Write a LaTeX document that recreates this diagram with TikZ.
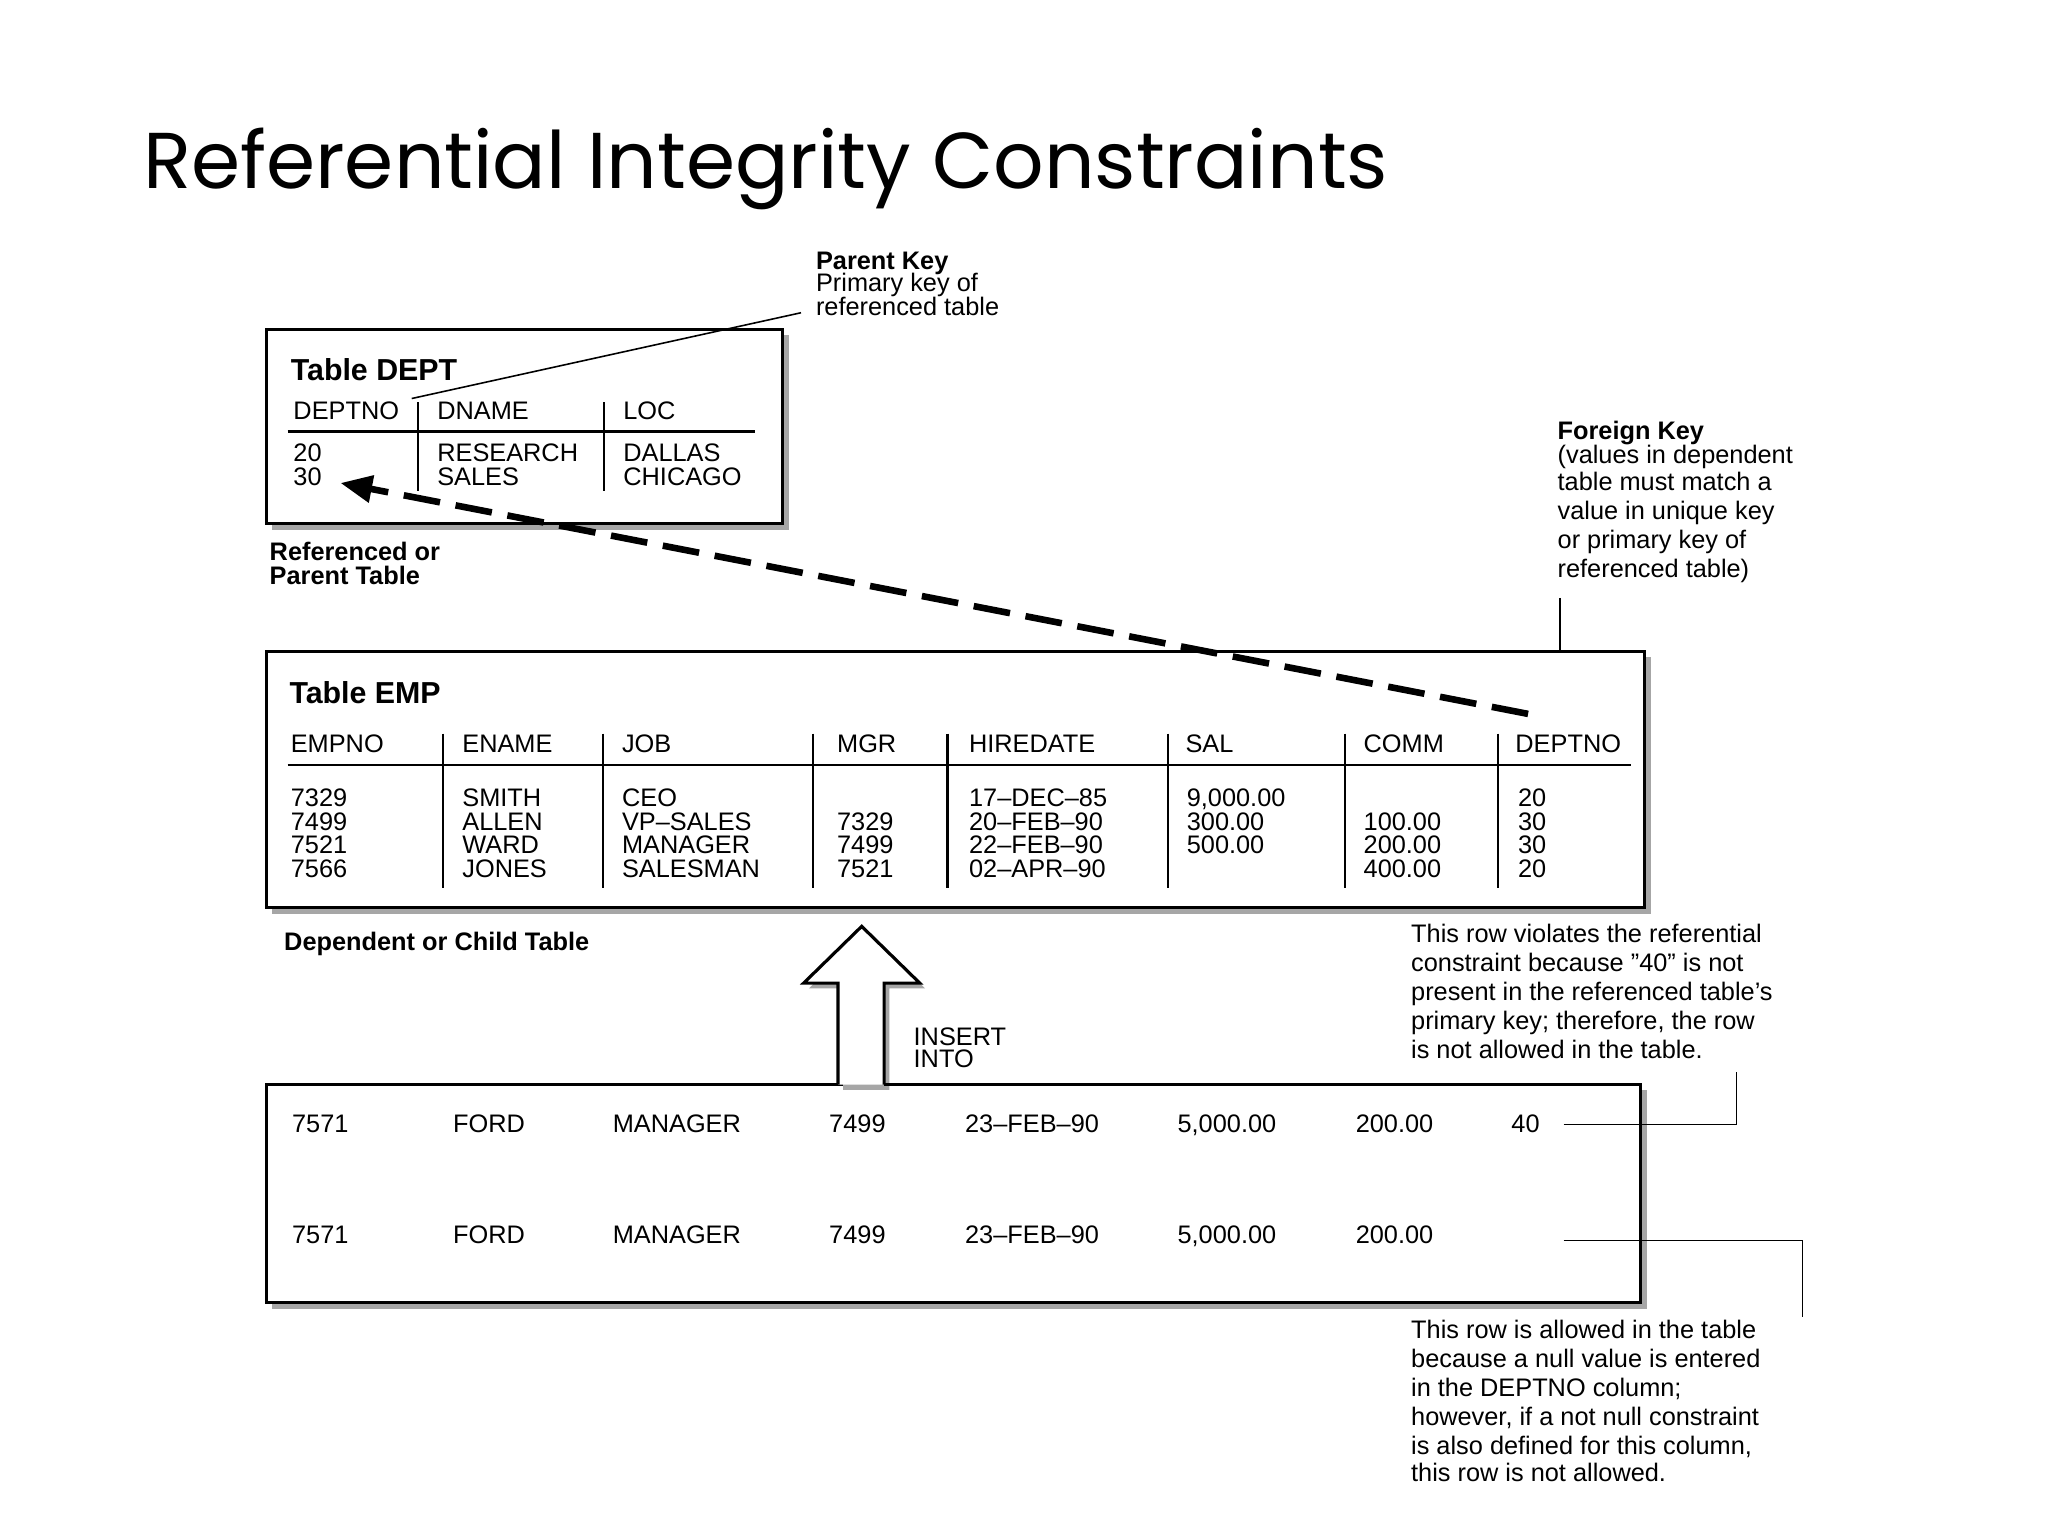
\documentclass[tikz,border=0pt]{standalone}
\usepackage{fontspec}
\setmainfont{Liberation Sans}
\newfontfamily\titlefont{Poppins}
\usetikzlibrary{arrows.meta}
\tikzset{
 t/.style={anchor=base west,inner sep=0pt,font=\fontsize{9.6}{10}\selectfont},
 tb/.style={t,font=\fontsize{9.6}{10}\selectfont\bfseries},
 tbig/.style={t,font=\fontsize{11.5}{12}\selectfont\bfseries},
 box/.style={draw,line width=1.2pt,fill=white},
 shadow/.style={fill=black!35},
 sep/.style={line width=0.8pt},
 lead/.style={line width=0.6pt}
}
\begin{document}
\begin{tikzpicture}[x=0.5pt,y=-0.5pt]
\useasboundingbox[fill=white] (0,0) rectangle (1552,1163);
\node[anchor=base west,inner sep=0pt,font=\fontsize{30}{30}\selectfont\titlefont] (title) at (108,143) {Referential Integrity Constraints};
% DEPT
\fill[shadow] (206,254) rectangle (598,402);
\draw[box] (202,250) rectangle (593,397);
\node[tbig] (dt) at (220,288) {Table DEPT};
\node[t] at (222,318) {DEPTNO}; \node[t] at (331,318) {DNAME}; \node[t] at (472,318) {LOC};
\draw[sep] (218,327) -- (572,327);
\draw[sep] (317,305) -- (317,372); \draw[sep] (458,305) -- (458,372);
\node[t] (d1) at (222,350) {20}; \node[t] at (331,350) {RESEARCH}; \node[t] at (472,350) {DALLAS};
\node[t] (d2) at (222,368) {30}; \node[t] at (331,368) {SALES}; \node[t] at (472,368) {CHICAGO};
\node[tb] (pk) at (618,204) {Parent Key};
\node[t] at (618,221) {Primary key of};
\node[t] at (618,239) {referenced table};
\coordinate (pkA) at (607,237); \coordinate (pkB) at (312,302);
\draw[lead] (pkA) -- (pkB);
\node[tb] at (204,425) {Referenced or};
\node[tb] at (204,443) {Parent Table};
% FK label
\node[tb] at (1180,333) {Foreign Key};
\node[t] at (1180,351) {(values in dependent};
\node[t] at (1180,372) {table must match a};
\node[t] at (1180,394) {value in unique key};
\node[t] at (1180,416) {or primary key of};
\node[t] at (1180,438) {referenced table)};
\coordinate (fk1) at (1182,453); \coordinate (fk2) at (1182,541);
\draw[lead] (fk1) -- (fk2);
% EMP
\fill[shadow] (206,498) rectangle (1251,693);
\draw[box] (202,494) rectangle (1246,688);
\node[tbig] at (219,533) {Table EMP};
\foreach \x/\s in {220/EMPNO,350/ENAME,471/JOB,634/MGR,734/HIREDATE,898/SAL,1033/COMM,1148/DEPTNO} \node[t] at (\x,570) {\s};
\draw[sep] (218,580) -- (1236,580);
\foreach \x in {336,457,616,718,885,1019,1135} \draw[sep] (\x,556) -- (\x,673);
\foreach \a/\b/\c/\d/\e/\f/\g/\h [count=\i] in {7329/SMITH/CEO//17--DEC--85/{9,000.00}//20,7499/ALLEN/VP--SALES/7329/20--FEB--90/300.00/100.00/30,7521/WARD/MANAGER/7499/22--FEB--90/500.00/200.00/30,7566/JONES/SALESMAN/7521/02--APR--90//400.00/20}{
 \node[t] at (220,593+18*\i) {\a}; \node[t] at (350,593+18*\i) {\b}; \node[t] at (471,593+18*\i) {\c};
 \node[t] at (634,593+18*\i) {\d}; \node[t] at (734,593+18*\i) {\e}; \node[t] at (899,593+18*\i) {\f};
 \node[t] at (1033,593+18*\i) {\g}; \node[t] at (1150,593+18*\i) {\h};}
\coordinate (src) at (1158,541); \coordinate (dst) at (258,366);
\draw[line width=2.5pt,dash pattern=on 14pt off 6pt,-{Triangle[length=12pt,width=10pt]}] (src) -- (dst);
\node[tb] at (215,720) {Dependent or Child Table};
\node[t] at (1069,714) {This row violates the referential};
\node[t] at (1069,736) {constraint because "40" is not};
\node[t] at (1069,758) {present in the referenced table's};
\node[t] at (1069,780) {primary key; therefore, the row};
\node[t] at (1069,802) {is not allowed in the table.};
% lower box
\fill[shadow] (206,826) rectangle (1248,992);
\draw[box] (202,822) rectangle (1243,987);
% hollow arrow
\fill[shadow] (639,826) -- (639,749) -- (613,749) -- (657,706) -- (701,749) -- (674,749) -- (674,826) -- cycle;
\draw[line width=1.2pt,fill=white] (635,822) -- (635,745) -- (609,745) -- (653,702) -- (697,745) -- (670,745) -- (670,822);
\draw[line width=1.2pt] (202,822) -- (635,822) (670,822) -- (1243,822);
\node[t] at (692,792) {INSERT};
\node[t] at (692,809) {INTO};
\foreach \y in {858,942}{
 \foreach \x/\s in {221/7571,343/FORD,464/MANAGER,628/7499,731/23--FEB--90,892/{5,000.00},1027/200.00} \node[t] at (\x,\y) {\s};}
\node[t] (forty) at (1145,858) {40};
\coordinate (r1) at (1185,852); \coordinate (r1c) at (1316,852); \coordinate (r1e) at (1316,812);
\draw[lead] (r1) -- (r1c) -- (r1e);
\coordinate (r2) at (1185,940); \coordinate (r2c) at (1366,940); \coordinate (r2e) at (1366,998);
\draw[lead] (r2) -- (r2c) -- (r2e);
\node[t] at (1069,1014) {This row is allowed in the table};
\node[t] at (1069,1036) {because a null value is entered};
\node[t] at (1069,1058) {in the DEPTNO column;};
\node[t] at (1069,1080) {however, if a not null constraint};
\node[t] at (1069,1102) {is also defined for this column,};
\node[t] at (1069,1123) {this row is not allowed.};
\end{tikzpicture}
\end{document}
